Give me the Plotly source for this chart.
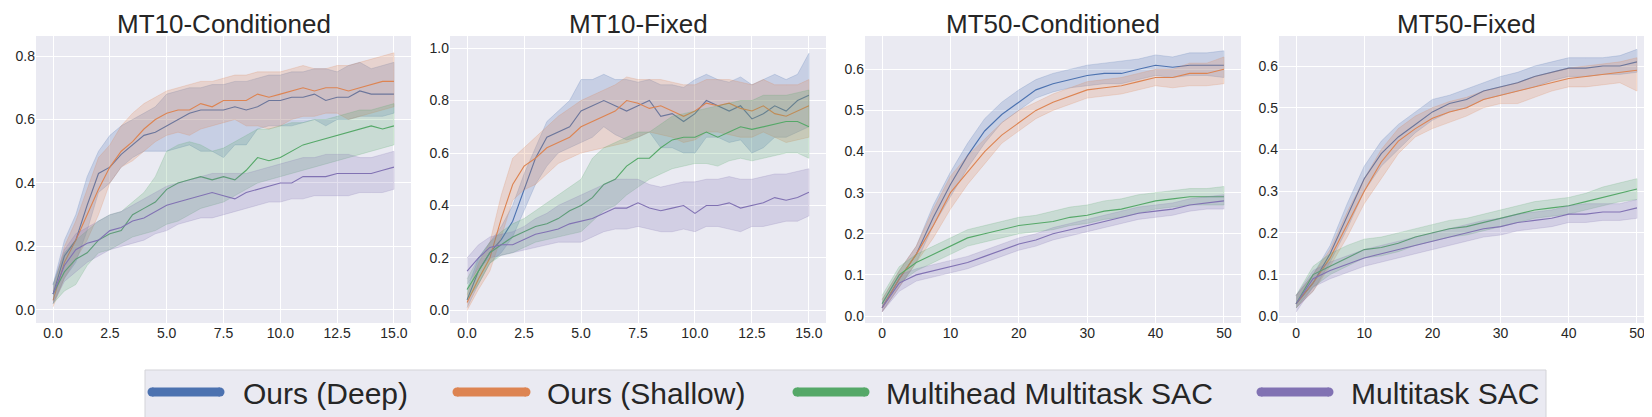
import plotly.graph_objects as go
from plotly.subplots import make_subplots

# training progress (x axis) for the two benchmark sizes
STEPS_MT10 = [0.0, 0.5, 1.0, 1.5, 2.0, 2.5, 3.0, 3.5, 4.0, 4.5, 5.0, 5.5, 6.0, 6.5, 7.0, 7.5,
              8.0, 8.5, 9.0, 9.5, 10.0, 10.5, 11.0, 11.5, 12.0, 12.5, 13.0, 13.5, 14.0, 14.5, 15.0]
STEPS_MT50 = [0, 2.5, 5, 7.5, 10, 12.5, 15, 17.5, 20, 22.5, 25, 27.5, 30, 32.5, 35, 37.5,
              40, 42.5, 45, 47.5, 50]

METHODS = ["Ours (Deep)", "Ours (Shallow)", "Multihead Multitask SAC", "Multitask SAC"]
PANEL_TITLES = ["MT10-Conditioned", "MT10-Fixed", "MT50-Conditioned", "MT50-Fixed"]

# MT10-Conditioned
mt10c_deep = [0.05, 0.17, 0.22, 0.33, 0.43, 0.45, 0.49, 0.52, 0.55, 0.56, 0.58, 0.60, 0.62, 0.63, 0.63, 0.63,
              0.64, 0.63, 0.64, 0.66, 0.66, 0.67, 0.67, 0.68, 0.66, 0.67, 0.67, 0.69, 0.68, 0.68, 0.68]
mt10c_deep_lo = [0.02, 0.10, 0.15, 0.25, 0.37, 0.40, 0.45, 0.48, 0.50, 0.50, 0.50, 0.51, 0.52, 0.50, 0.50, 0.48,
                 0.52, 0.52, 0.57, 0.58, 0.58, 0.58, 0.59, 0.60, 0.58, 0.60, 0.60, 0.61, 0.61, 0.61, 0.62]
mt10c_deep_hi = [0.08, 0.22, 0.30, 0.42, 0.50, 0.55, 0.58, 0.60, 0.62, 0.64, 0.68, 0.69, 0.70, 0.70, 0.71, 0.71,
                 0.72, 0.72, 0.73, 0.74, 0.74, 0.75, 0.75, 0.76, 0.76, 0.75, 0.77, 0.78, 0.76, 0.77, 0.78]
mt10c_shallow = [0.03, 0.15, 0.22, 0.30, 0.38, 0.45, 0.50, 0.53, 0.57, 0.60, 0.62, 0.63, 0.63, 0.65, 0.64, 0.66,
                 0.66, 0.66, 0.68, 0.67, 0.68, 0.69, 0.70, 0.69, 0.70, 0.70, 0.69, 0.70, 0.71, 0.72, 0.72]
mt10c_shallow_lo = [0.01, 0.10, 0.16, 0.22, 0.30, 0.40, 0.45, 0.47, 0.50, 0.53, 0.55, 0.56, 0.55, 0.57, 0.58, 0.59,
                    0.60, 0.58, 0.58, 0.57, 0.58, 0.60, 0.61, 0.61, 0.62, 0.62, 0.60, 0.61, 0.62, 0.63, 0.64]
mt10c_shallow_hi = [0.06, 0.20, 0.28, 0.38, 0.48, 0.52, 0.58, 0.62, 0.65, 0.67, 0.69, 0.70, 0.71, 0.72, 0.72, 0.73,
                    0.74, 0.74, 0.75, 0.75, 0.75, 0.76, 0.77, 0.76, 0.76, 0.77, 0.77, 0.78, 0.79, 0.80, 0.81]
mt10c_multihead = [0.05, 0.12, 0.16, 0.18, 0.22, 0.24, 0.25, 0.30, 0.32, 0.34, 0.38, 0.40, 0.41, 0.42, 0.41, 0.42,
                   0.41, 0.44, 0.48, 0.47, 0.48, 0.50, 0.52, 0.53, 0.54, 0.55, 0.56, 0.57, 0.58, 0.57, 0.58]
mt10c_multihead_lo = [0.02, 0.06, 0.08, 0.14, 0.18, 0.19, 0.21, 0.23, 0.24, 0.25, 0.27, 0.28, 0.30, 0.32, 0.33, 0.34,
                      0.36, 0.38, 0.40, 0.41, 0.42, 0.43, 0.44, 0.45, 0.46, 0.47, 0.48, 0.49, 0.50, 0.51, 0.52]
mt10c_multihead_hi = [0.08, 0.18, 0.22, 0.25, 0.28, 0.30, 0.31, 0.34, 0.37, 0.42, 0.50, 0.52, 0.53, 0.52, 0.50, 0.51,
                      0.53, 0.55, 0.57, 0.57, 0.58, 0.59, 0.59, 0.60, 0.60, 0.61, 0.62, 0.63, 0.63, 0.64, 0.65]
mt10c_multitask = [0.05, 0.14, 0.19, 0.21, 0.22, 0.25, 0.26, 0.28, 0.29, 0.31, 0.33, 0.34, 0.35, 0.36, 0.37, 0.36,
                   0.35, 0.37, 0.38, 0.39, 0.40, 0.40, 0.42, 0.42, 0.42, 0.43, 0.43, 0.43, 0.43, 0.44, 0.45]
mt10c_multitask_lo = [0.02, 0.09, 0.12, 0.15, 0.17, 0.19, 0.20, 0.21, 0.22, 0.24, 0.25, 0.27, 0.28, 0.29, 0.29, 0.30,
                      0.31, 0.32, 0.33, 0.34, 0.34, 0.35, 0.35, 0.36, 0.36, 0.36, 0.36, 0.37, 0.37, 0.37, 0.38]
mt10c_multitask_hi = [0.08, 0.19, 0.24, 0.26, 0.28, 0.30, 0.31, 0.33, 0.35, 0.37, 0.39, 0.40, 0.41, 0.42, 0.43, 0.43,
                      0.43, 0.43, 0.44, 0.45, 0.46, 0.47, 0.48, 0.48, 0.49, 0.49, 0.49, 0.48, 0.48, 0.49, 0.50]

# MT10-Fixed
mt10f_deep = [0.04, 0.15, 0.22, 0.27, 0.34, 0.46, 0.58, 0.66, 0.68, 0.70, 0.76, 0.78, 0.80, 0.78, 0.76, 0.78,
              0.80, 0.74, 0.75, 0.72, 0.75, 0.80, 0.78, 0.76, 0.78, 0.73, 0.75, 0.78, 0.76, 0.80, 0.82]
mt10f_deep_lo = [0.01, 0.10, 0.18, 0.22, 0.28, 0.38, 0.48, 0.55, 0.60, 0.62, 0.64, 0.66, 0.70, 0.67, 0.65, 0.66,
                 0.68, 0.62, 0.62, 0.60, 0.60, 0.66, 0.66, 0.64, 0.65, 0.60, 0.62, 0.66, 0.66, 0.68, 0.70]
mt10f_deep_hi = [0.08, 0.20, 0.26, 0.32, 0.40, 0.52, 0.62, 0.72, 0.76, 0.80, 0.88, 0.88, 0.90, 0.88, 0.88, 0.87,
                 0.88, 0.86, 0.86, 0.85, 0.88, 0.90, 0.88, 0.87, 0.89, 0.86, 0.88, 0.90, 0.88, 0.90, 0.98]
mt10f_shallow = [0.03, 0.12, 0.20, 0.35, 0.48, 0.55, 0.58, 0.62, 0.64, 0.66, 0.70, 0.72, 0.74, 0.76, 0.80, 0.79,
                 0.77, 0.78, 0.76, 0.74, 0.76, 0.79, 0.78, 0.79, 0.77, 0.76, 0.78, 0.75, 0.74, 0.76, 0.78]
mt10f_shallow_lo = [0.00, 0.08, 0.15, 0.28, 0.42, 0.46, 0.48, 0.52, 0.56, 0.58, 0.60, 0.61, 0.62, 0.63, 0.64, 0.66,
                    0.68, 0.67, 0.66, 0.64, 0.65, 0.68, 0.68, 0.67, 0.66, 0.66, 0.68, 0.66, 0.64, 0.65, 0.66]
mt10f_shallow_hi = [0.06, 0.18, 0.26, 0.44, 0.58, 0.62, 0.66, 0.70, 0.74, 0.77, 0.80, 0.82, 0.84, 0.86, 0.89, 0.88,
                    0.88, 0.88, 0.87, 0.86, 0.86, 0.88, 0.88, 0.88, 0.87, 0.86, 0.88, 0.86, 0.86, 0.86, 0.88]
mt10f_multihead = [0.08, 0.15, 0.22, 0.25, 0.28, 0.30, 0.32, 0.33, 0.35, 0.38, 0.40, 0.43, 0.48, 0.50, 0.55, 0.58,
                   0.58, 0.62, 0.65, 0.66, 0.66, 0.68, 0.66, 0.68, 0.70, 0.69, 0.70, 0.71, 0.72, 0.72, 0.70]
mt10f_multihead_lo = [0.04, 0.10, 0.18, 0.21, 0.22, 0.24, 0.26, 0.27, 0.28, 0.29, 0.30, 0.34, 0.38, 0.40, 0.44, 0.47,
                      0.50, 0.52, 0.54, 0.55, 0.56, 0.56, 0.55, 0.57, 0.58, 0.57, 0.58, 0.59, 0.60, 0.60, 0.58]
mt10f_multihead_hi = [0.12, 0.20, 0.26, 0.30, 0.33, 0.35, 0.38, 0.41, 0.44, 0.47, 0.50, 0.58, 0.62, 0.64, 0.66, 0.68,
                      0.68, 0.71, 0.74, 0.75, 0.76, 0.77, 0.78, 0.79, 0.80, 0.80, 0.82, 0.82, 0.82, 0.83, 0.84]
mt10f_multitask = [0.15, 0.20, 0.24, 0.25, 0.25, 0.27, 0.29, 0.30, 0.31, 0.33, 0.34, 0.35, 0.37, 0.39, 0.39, 0.41,
                   0.39, 0.38, 0.39, 0.40, 0.37, 0.40, 0.40, 0.41, 0.39, 0.40, 0.41, 0.43, 0.42, 0.43, 0.45]
mt10f_multitask_lo = [0.10, 0.16, 0.20, 0.21, 0.22, 0.23, 0.24, 0.25, 0.26, 0.26, 0.26, 0.28, 0.30, 0.31, 0.31, 0.32,
                      0.31, 0.30, 0.30, 0.31, 0.30, 0.32, 0.32, 0.31, 0.30, 0.32, 0.32, 0.33, 0.34, 0.34, 0.36]
mt10f_multitask_hi = [0.20, 0.25, 0.28, 0.29, 0.30, 0.32, 0.35, 0.37, 0.40, 0.42, 0.44, 0.46, 0.48, 0.50, 0.50, 0.50,
                      0.48, 0.47, 0.48, 0.49, 0.49, 0.50, 0.50, 0.51, 0.50, 0.50, 0.51, 0.52, 0.52, 0.53, 0.54]

# MT50-Conditioned
mt50c_deep = [0.02, 0.09, 0.15, 0.24, 0.32, 0.39, 0.45, 0.49, 0.52, 0.55, 0.565, 0.575, 0.585, 0.59, 0.59,
              0.60, 0.61, 0.605, 0.61, 0.61, 0.61]
mt50c_deep_lo = [0.01, 0.07, 0.13, 0.22, 0.29, 0.36, 0.42, 0.47, 0.50, 0.53, 0.545, 0.555, 0.56, 0.565, 0.565,
                 0.575, 0.585, 0.58, 0.585, 0.585, 0.58]
mt50c_deep_hi = [0.04, 0.11, 0.17, 0.27, 0.35, 0.42, 0.48, 0.52, 0.55, 0.575, 0.59, 0.60, 0.61, 0.615, 0.62,
                 0.625, 0.635, 0.63, 0.64, 0.64, 0.645]
mt50c_shallow = [0.02, 0.09, 0.15, 0.22, 0.30, 0.35, 0.40, 0.44, 0.47, 0.50, 0.52, 0.535, 0.55, 0.555, 0.56,
                 0.57, 0.58, 0.58, 0.59, 0.59, 0.60]
mt50c_shallow_lo = [0.01, 0.07, 0.13, 0.19, 0.26, 0.32, 0.37, 0.42, 0.45, 0.48, 0.50, 0.515, 0.53, 0.535, 0.54,
                    0.55, 0.56, 0.555, 0.56, 0.56, 0.565]
mt50c_shallow_hi = [0.04, 0.11, 0.17, 0.26, 0.34, 0.39, 0.43, 0.47, 0.50, 0.52, 0.54, 0.555, 0.57, 0.575, 0.58,
                    0.59, 0.60, 0.60, 0.615, 0.615, 0.63]
mt50c_multihead = [0.03, 0.10, 0.13, 0.15, 0.17, 0.19, 0.20, 0.21, 0.22, 0.225, 0.23, 0.24, 0.245, 0.255, 0.26,
                   0.27, 0.28, 0.285, 0.29, 0.29, 0.29]
mt50c_multihead_lo = [0.02, 0.08, 0.11, 0.13, 0.15, 0.17, 0.18, 0.19, 0.20, 0.205, 0.21, 0.22, 0.225, 0.235, 0.24,
                      0.25, 0.26, 0.265, 0.27, 0.27, 0.27]
mt50c_multihead_hi = [0.05, 0.12, 0.15, 0.17, 0.19, 0.21, 0.22, 0.23, 0.24, 0.245, 0.255, 0.265, 0.27, 0.28, 0.285,
                      0.295, 0.30, 0.305, 0.31, 0.31, 0.315]
mt50c_multitask = [0.02, 0.08, 0.10, 0.11, 0.12, 0.13, 0.145, 0.16, 0.175, 0.185, 0.20, 0.21, 0.22, 0.23, 0.24,
                   0.25, 0.255, 0.26, 0.27, 0.275, 0.28]
mt50c_multitask_lo = [0.01, 0.06, 0.085, 0.095, 0.105, 0.115, 0.13, 0.145, 0.16, 0.17, 0.185, 0.195, 0.205, 0.215,
                      0.225, 0.235, 0.24, 0.245, 0.255, 0.26, 0.26]
mt50c_multitask_hi = [0.03, 0.10, 0.115, 0.125, 0.135, 0.145, 0.16, 0.175, 0.19, 0.20, 0.215, 0.225, 0.235, 0.245,
                      0.255, 0.265, 0.27, 0.275, 0.285, 0.29, 0.295]

# MT50-Fixed
mt50f_deep = [0.03, 0.08, 0.15, 0.24, 0.33, 0.39, 0.43, 0.46, 0.49, 0.51, 0.52, 0.54, 0.55, 0.56, 0.575,
              0.585, 0.595, 0.595, 0.60, 0.60, 0.61]
mt50f_deep_lo = [0.02, 0.06, 0.13, 0.21, 0.30, 0.36, 0.40, 0.44, 0.47, 0.49, 0.50, 0.52, 0.53, 0.54, 0.55,
                 0.565, 0.575, 0.575, 0.58, 0.58, 0.585]
mt50f_deep_hi = [0.05, 0.10, 0.17, 0.27, 0.36, 0.42, 0.46, 0.49, 0.52, 0.53, 0.545, 0.56, 0.575, 0.585, 0.60,
                 0.61, 0.62, 0.62, 0.62, 0.625, 0.64]
mt50f_shallow = [0.03, 0.08, 0.14, 0.22, 0.30, 0.37, 0.42, 0.45, 0.475, 0.49, 0.50, 0.52, 0.53, 0.54, 0.55,
                 0.56, 0.57, 0.575, 0.58, 0.585, 0.59]
mt50f_shallow_lo = [0.02, 0.06, 0.12, 0.19, 0.27, 0.33, 0.39, 0.43, 0.45, 0.465, 0.48, 0.50, 0.51, 0.51, 0.525,
                    0.54, 0.55, 0.55, 0.555, 0.56, 0.54]
mt50f_shallow_hi = [0.05, 0.10, 0.16, 0.25, 0.33, 0.40, 0.45, 0.48, 0.50, 0.515, 0.525, 0.54, 0.55, 0.56, 0.575,
                    0.585, 0.595, 0.60, 0.605, 0.61, 0.62]
mt50f_multihead = [0.03, 0.10, 0.12, 0.14, 0.16, 0.165, 0.175, 0.19, 0.20, 0.21, 0.215, 0.225, 0.235, 0.245,
                   0.255, 0.26, 0.265, 0.275, 0.285, 0.295, 0.305]
mt50f_multihead_lo = [0.02, 0.07, 0.10, 0.12, 0.14, 0.145, 0.155, 0.17, 0.18, 0.19, 0.195, 0.205, 0.215, 0.225,
                      0.235, 0.24, 0.245, 0.255, 0.265, 0.275, 0.28]
mt50f_multihead_hi = [0.05, 0.12, 0.15, 0.17, 0.185, 0.19, 0.20, 0.21, 0.22, 0.23, 0.235, 0.245, 0.255, 0.265,
                      0.275, 0.28, 0.285, 0.295, 0.31, 0.32, 0.33]
mt50f_multitask = [0.03, 0.09, 0.11, 0.125, 0.14, 0.15, 0.16, 0.17, 0.18, 0.19, 0.20, 0.21, 0.215, 0.225, 0.23,
                   0.235, 0.245, 0.245, 0.25, 0.25, 0.26]
mt50f_multitask_lo = [0.01, 0.07, 0.09, 0.105, 0.12, 0.13, 0.14, 0.15, 0.16, 0.17, 0.18, 0.19, 0.195, 0.205,
                      0.21, 0.215, 0.225, 0.225, 0.23, 0.23, 0.235]
mt50f_multitask_hi = [0.05, 0.11, 0.13, 0.145, 0.16, 0.17, 0.18, 0.19, 0.20, 0.21, 0.22, 0.23, 0.235, 0.245,
                      0.25, 0.255, 0.265, 0.27, 0.27, 0.27, 0.28]

COLORS = ["#4c72b0", "#dd8452", "#55a868", "#8172b3"]
FILLS = ["rgba(76,114,176,0.22)", "rgba(221,132,82,0.22)", "rgba(85,168,104,0.22)", "rgba(129,114,179,0.22)"]
EDGES = ["rgba(76,114,176,0.35)", "rgba(221,132,82,0.35)", "rgba(85,168,104,0.35)", "rgba(129,114,179,0.35)"]

panels = [
    (STEPS_MT10, [(mt10c_deep, mt10c_deep_lo, mt10c_deep_hi),
                  (mt10c_shallow, mt10c_shallow_lo, mt10c_shallow_hi),
                  (mt10c_multihead, mt10c_multihead_lo, mt10c_multihead_hi),
                  (mt10c_multitask, mt10c_multitask_lo, mt10c_multitask_hi)]),
    (STEPS_MT10, [(mt10f_deep, mt10f_deep_lo, mt10f_deep_hi),
                  (mt10f_shallow, mt10f_shallow_lo, mt10f_shallow_hi),
                  (mt10f_multihead, mt10f_multihead_lo, mt10f_multihead_hi),
                  (mt10f_multitask, mt10f_multitask_lo, mt10f_multitask_hi)]),
    (STEPS_MT50, [(mt50c_deep, mt50c_deep_lo, mt50c_deep_hi),
                  (mt50c_shallow, mt50c_shallow_lo, mt50c_shallow_hi),
                  (mt50c_multihead, mt50c_multihead_lo, mt50c_multihead_hi),
                  (mt50c_multitask, mt50c_multitask_lo, mt50c_multitask_hi)]),
    (STEPS_MT50, [(mt50f_deep, mt50f_deep_lo, mt50f_deep_hi),
                  (mt50f_shallow, mt50f_shallow_lo, mt50f_shallow_hi),
                  (mt50f_multihead, mt50f_multihead_lo, mt50f_multihead_hi),
                  (mt50f_multitask, mt50f_multitask_lo, mt50f_multitask_hi)]),
]

W, H = 1652, 417
FONT = "Liberation Sans, Arial, sans-serif"


def px(x):
    return x / W


def py(y):
    return 1 - y / H


def add_band(fig, x, mean, lo, hi, i, col):
    fig.add_trace(
        go.Scatter(
            x=list(x) + list(x)[::-1],
            y=list(hi) + list(lo)[::-1],
            fill="toself",
            fillcolor=FILLS[i],
            line=dict(color=EDGES[i], width=0.6),
            hoverinfo="skip",
            showlegend=False,
        ),
        row=1, col=col,
    )
    fig.add_trace(
        go.Scatter(x=x, y=mean, mode="lines", name=METHODS[i],
                   line=dict(color=COLORS[i], width=1.1), showlegend=False),
        row=1, col=col,
    )


fig = make_subplots(rows=1, cols=4, subplot_titles=PANEL_TITLES)

for c, (steps, series) in enumerate(panels, start=1):
    for i, (mean, lo, hi) in enumerate(series):
        add_band(fig, steps, mean, lo, hi, i, c)

# pixel boxes of the four plot areas
x_boxes = [(28, 403), (442, 818), (857, 1233), (1271, 1646)]
y_top, y_bot = 28, 315
y_ranges = [(-0.041, 0.863), (-0.048, 1.046), (-0.017, 0.681), (-0.016, 0.672)]
y_dticks = [0.2, 0.2, 0.1, 0.1]

axis_style = dict(
    showgrid=True, gridcolor="white", gridwidth=1.2, zeroline=False, showline=False,
    ticks="", tickfont=dict(size=14, color="#262626", family=FONT),
)

for k in range(4):
    sfx = "" if k == 0 else str(k + 1)
    x0, x1 = x_boxes[k]
    if k < 2:
        xa = dict(range=[-0.75, 15.75], tick0=0, dtick=2.5, tickformat=".1f")
    else:
        xa = dict(range=[-2.5, 52.5], tick0=0, dtick=10)
    fig.layout["xaxis" + sfx].update(domain=[px(x0), px(x1)], **xa, **axis_style)
    fig.layout["yaxis" + sfx].update(
        domain=[py(y_bot), py(y_top)], range=list(y_ranges[k]),
        tick0=0, dtick=y_dticks[k], tickformat=".1f", **axis_style,
    )

# titles hang from the top edge so the text box stays inside the page
for k, ann in enumerate(fig.layout.annotations):
    x0, x1 = x_boxes[k]
    ann.update(x=px((x0 + x1) / 2), y=1.0, yanchor="top", yshift=0, borderpad=0,
               font=dict(size=26, color="#262626", family=FONT))

# legend drawn by hand so the handles and spacing follow the original
legend_box = (137, 362, 1538, 413)
handle_x = [(144, 212), (449, 518), (789, 857), (1253, 1321)]
label_x = [233, 537, 876, 1341]
handle_y = 384
r = 4.5

fig.add_shape(type="rect", xref="paper", yref="paper",
              x0=px(legend_box[0]), x1=px(legend_box[2]), y0=py(legend_box[3]), y1=py(legend_box[1]),
              fillcolor="#eaeaf2", line=dict(color="#d3d3d8", width=1), layer="below")
for i, name in enumerate(METHODS):
    hx0, hx1 = handle_x[i]
    fig.add_shape(type="line", xref="paper", yref="paper",
                  x0=px(hx0), x1=px(hx1), y0=py(handle_y), y1=py(handle_y),
                  line=dict(color=COLORS[i], width=9))
    for cx in (hx0, hx1):
        fig.add_shape(type="circle", xref="paper", yref="paper",
                      x0=px(cx - r), x1=px(cx + r), y0=py(handle_y + r), y1=py(handle_y - r),
                      fillcolor=COLORS[i], line=dict(width=0))
    fig.add_annotation(text=name, xref="paper", yref="paper", x=px(label_x[i]), y=py(385),
                       xanchor="left", yanchor="middle", showarrow=False,
                       font=dict(size=30, color="#262626", family=FONT))

fig.update_layout(
    width=W, height=H,
    margin=dict(l=0, r=0, t=0, b=0),
    paper_bgcolor="white",
    plot_bgcolor="#eaeaf2",
    showlegend=False,
)

fig.write_html("out.html")
